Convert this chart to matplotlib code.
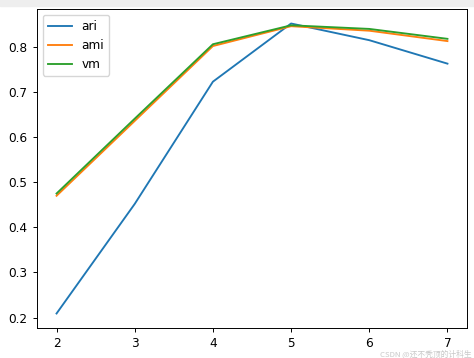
import matplotlib
matplotlib.use("Agg")
import matplotlib.pyplot as plt
from matplotlib.patches import Rectangle

x = [2, 3, 4, 5, 6, 7]
ari = [0.209, 0.452, 0.723, 0.852, 0.815, 0.763]
ami = [0.470, 0.636, 0.802, 0.846, 0.836, 0.813]
vm = [0.475, 0.641, 0.806, 0.848, 0.840, 0.818]
labels = ["ari", "ami", "vm"]

plt.rcParams['font.family'] = ['DejaVu Sans', 'Noto Sans CJK SC']
fig = plt.figure(figsize=(4.74, 3.58), dpi=100)
ax = fig.add_axes([37/474, 1-328/358, (467-37)/474, (328-9)/358])
lw = 1.35
ax.plot(x, ari, label=labels[0], lw=lw)
ax.plot(x, ami, label=labels[1], lw=lw)
ax.plot(x, vm, label=labels[2], lw=lw)
ax.tick_params(labelsize=8.7, length=3.2, width=0.7)
for s in ax.spines.values():
    s.set_linewidth(0.7)
ax.legend(loc='upper left', fontsize=8.7, handlelength=2.0)

fig.patches.append(Rectangle((0, 1-6/358), 1, 6/358, transform=fig.transFigure,
                             color='#eeeeee', zorder=-1))
fig.text(0.995, 0.0, "CSDN @还不秃顶的计科生", ha='right', va='bottom',
         fontsize=5.6, color='#c8c8c8', family=['Noto Sans CJK SC', 'DejaVu Sans'])
fig.savefig("out.png", dpi=100)
